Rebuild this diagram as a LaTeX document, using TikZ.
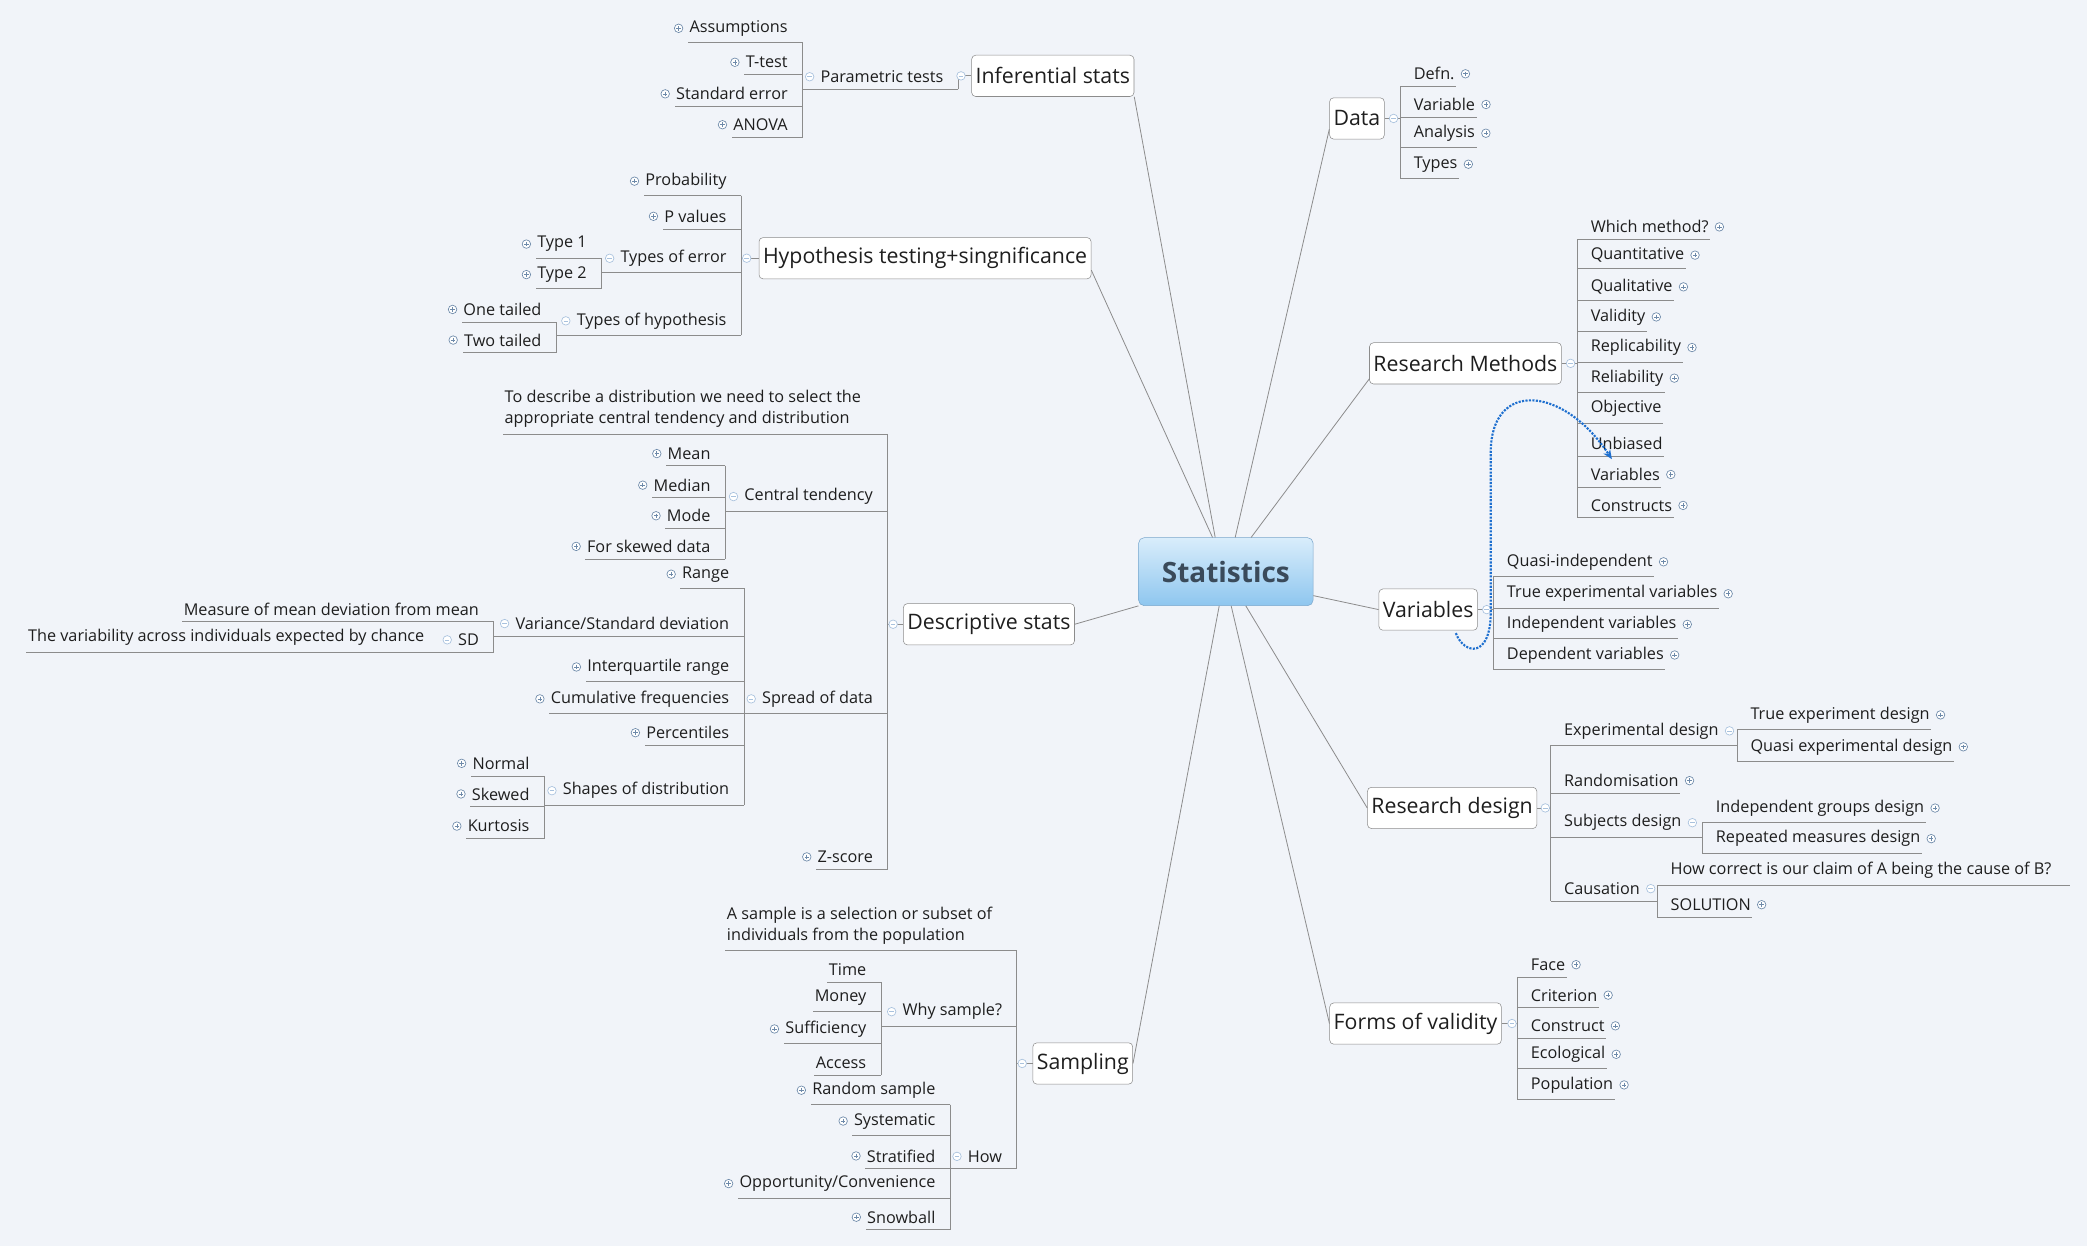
\documentclass[tikz,border=0pt]{standalone}
\usepackage{fontspec}
\setmainfont{Open Sans}
\usetikzlibrary{calc,arrows.meta}
\definecolor{bg}{HTML}{F1F4F9}
\definecolor{lc}{HTML}{8C8C8C}
\definecolor{txt}{HTML}{1E1E1E}
\definecolor{mkd}{HTML}{6E8AAA}
\definecolor{mkl}{HTML}{A9C2DE}
\definecolor{stt}{HTML}{D9EDFB}
\definecolor{stb}{HTML}{8EC6EF}
\definecolor{sbd}{HTML}{7AA7CC}
\definecolor{stx}{HTML}{3A4A5A}
\definecolor{arr}{HTML}{1E6FCF}
\newcommand\fs{\fontsize{12.2}{15.5}\selectfont}
\newcommand\fl{\fontsize{16}{19}\selectfont}
\tikzset{
 lf/.style={font=\fs, inner xsep=1pt, inner ysep=4.6pt, text=txt},
 ln/.style={draw=lc, line width=0.6pt},
 topic/.style={draw=lc, fill=white, rounded corners=3pt, font=\fl, text=txt, inner xsep=3pt, minimum height=31pt},
 mkpc/.style={draw=mkd, line width=0.5pt},
 mkmc/.style={draw=mkl, line width=0.5pt},
}
\newcommand\mkp[1]{\draw[mkpc,fill=white] (#1) circle (3.2pt); \draw[mkpc] ($(#1)+(-1.7,0)$)--++(3.4,0) ($(#1)+(0,-1.7)$)--++(0,3.4);}
\newcommand\mkm[1]{\draw[mkmc,fill=white] (#1) circle (3.2pt); \draw[mkmc] ($(#1)+(-1.7,0)$)--++(3.4,0);}
\newcommand\mkn[1]{}
% left leaf: id, bracket x, underline y, text, marker
\newcommand\Lf[5]{\node[lf,anchor=south east] (#1) at ({#2-10},#3) {#4};
 \draw[ln] (#2,#3) -- (#1.south west);
 \coordinate (#1m) at ($(#1.west)+(-7,0)$); \csname mk#5\endcsname{#1m}}
\newcommand\Rf[5]{\node[lf,anchor=south west] (#1) at ({#2+9},#3) {#4};
 \draw[ln] (#2,#3) -- (#1.south east);
 \coordinate (#1m) at ($(#1.east)+(7,0)$); \csname mk#5\endcsname{#1m}}
\newcommand\br[3]{\draw[ln] (#1,#2) -- (#1,#3);}
\begin{document}
\begin{tikzpicture}[x=1pt,y=-1pt]
\fill[bg] (0,0) rectangle (1568,936);
\useasboundingbox (0,0) rectangle (1568,936);
% central
\node[draw=sbd,rounded corners=4pt,top color=stt,bottom color=stb,minimum width=131,minimum height=51,font=\fontsize{21}{24}\bfseries\selectfont,text=stx] (stat) at (921,429.5) {Statistics};
% topics
\node[topic] (inf) at (791,57) {Inferential stats};
\node[topic] (hyp) at (695,194) {Hypothesis testing+singnificance};
\node[topic] (des) at (743,469) {Descriptive stats};
\node[topic] (samp) at (813.5,799) {Sampling};
\node[topic] (data) at (1019.5,89) {Data};
\node[topic] (rm) at (1101,273) {Research Methods};
\node[topic] (vars) at (1073,458) {Variables};
\node[topic] (rd) at (1091,607) {Research design};
\node[topic] (fv) at (1063.5,769) {Forms of validity};
% spokes
\draw[ln] ($(stat.north)+(-8,0)$) -- (inf.south east);
\draw[ln] ($(stat.north)+(-10,0)$) -- ($(hyp.east)+(0,9)$);
\draw[ln] (stat.south west) -- (des.east);
\draw[ln] ($(stat.south)+(-5,0)$) -- (samp.east);
\draw[ln] ($(stat.north)+(7,0)$) -- ($(data.west)+(0,8)$);
\draw[ln] ($(stat.north)+(19,0)$) -- ($(rm.south west)+(0,-4)$);
\draw[ln] ($(stat.east)+(0,18)$) -- (vars.west);
\draw[ln] ($(stat.south)+(15,0)$) -- (rd.west);
\draw[ln] ($(stat.south)+(4,0)$) -- (fv.west);
% ---- Inferential
\draw[ln] (720,67) -- (720,57) -- (inf.west); \mkm{722,57}
\Lf{par}{720}{67}{Parametric tests}{m}
\draw[ln] (par.south west) -- (603,67);
\Lf{a1}{603}{32}{Assumptions}{p}
\Lf{a2}{603}{56}{T-test}{p}
\Lf{a3}{603}{80}{Standard error}{p}
\Lf{a4}{603}{103}{ANOVA}{p}
\br{603}{32}{103}
% ---- Hypothesis
\draw[ln] (557,194) -- (hyp.west); \mkm{561,194}
\br{557}{147}{252}
\Lf{h1}{557}{147}{Probability}{p}
\Lf{h2}{557}{172}{P values}{p}
\Lf{toe}{557}{205}{Types of error}{m}
\draw[ln] (toe.south west) -- (452,205);
\Lf{t1}{452}{194}{Type 1}{p}
\Lf{t2}{452}{217}{Type 2}{p}
\br{452}{194}{217}
\Lf{toh}{557}{252}{Types of hypothesis}{m}
\draw[ln] (toh.south west) -- (418,252);
\Lf{o1}{418}{242}{One tailed}{p}
\Lf{o2}{418}{265}{Two tailed}{p}
\br{418}{242}{265}
% ---- Descriptive
\draw[ln] (667,469) -- (des.west); \mkm{671,469}
\br{667}{326}{653}
\node[lf,anchor=south west,align=left] (d0) at (378,326) {To describe a distribution we need to select the\\appropriate central tendency and distribution};
\draw[ln] (d0.south west) -- (667,326);
\Lf{ct}{667}{384}{Central tendency}{m}
\draw[ln] (ct.south west) -- (545,384);
\Lf{c1}{545}{350}{Mean}{p}
\Lf{c2}{545}{374}{Median}{p}
\Lf{c3}{545}{397}{Mode}{p}
\Lf{c4}{545}{420}{For skewed data}{p}
\br{545}{350}{420}
\Lf{sp}{667}{536}{Spread of data}{m}
\draw[ln] (sp.south west) -- (559,536);
\br{559}{442}{605}
\Lf{s1}{559}{442}{Range}{p}
\Lf{vsd}{559}{478}{Variance/Standard deviation}{m}
\draw[ln] (vsd.south west) -- (371,478);
\br{371}{467}{490}
\Lf{ms}{371}{467}{Measure of mean deviation from mean}{n}
\Lf{sd}{371}{490}{SD}{m}
\draw[ln] (sd.south west) -- (330,490);
\Lf{vac}{330}{490}{The variability across individuals expected by chance}{n}
\Lf{s2}{559}{512}{Interquartile range}{p}
\Lf{s3}{559}{536}{Cumulative frequencies}{p}
\Lf{s4}{559}{560}{Percentiles}{p}
\Lf{shp}{559}{605}{Shapes of distribution}{m}
\draw[ln] (shp.south west) -- (409,605);
\Lf{n1}{409}{583}{Normal}{p}
\Lf{n2}{409}{606}{Skewed}{p}
\Lf{n3}{409}{630}{Kurtosis}{p}
\br{409}{583}{630}
\Lf{zs}{667}{653}{Z-score}{p}
% ---- Sampling
\draw[ln] (764,799) -- (samp.west); \mkm{768,799}
\br{764}{714}{878}
\node[lf,anchor=south west,align=left] (s0) at (545,714) {A sample is a selection or subset of\\individuals from the population};
\draw[ln] (s0.south west) -- (764,714);
\Lf{why}{764}{771}{Why sample?}{m}
\draw[ln] (why.south west) -- (662,771);
\Lf{w1}{662}{738}{Time}{n}
\Lf{w2}{662}{760}{Money}{n}
\Lf{w3}{662}{784}{Sufficiency}{p}
\Lf{w4}{662}{808}{Access}{n}
\br{662}{738}{808}
\Lf{how}{764}{878}{How}{m}
\draw[ln] (how.south west) -- (714,878);
\Lf{m0}{714}{830}{Random sample}{p}
\Lf{m1}{714}{853}{Systematic}{p}
\Lf{m2}{714}{878}{Stratified}{p}
\Lf{m3}{714}{900}{Opportunity/Convenience}{p}
\Lf{m4}{714}{924}{Snowball}{p}
\br{714}{830}{924}
% ---- Data
\draw[ln] (data.east) -- (1052,89); \mkm{1047,89}
\br{1052}{65}{134}
\Rf{da1}{1052}{65}{Defn.}{p}
\Rf{da2}{1052}{88}{Variable}{p}
\Rf{da3}{1052}{111}{Analysis}{p}
\Rf{da4}{1052}{134}{Types}{p}
% ---- Research methods
\draw[ln] (rm.east) -- (1185,273); \mkm{1180,273}
\br{1185}{180}{389}
\Rf{r1}{1185}{180}{Which method?}{p}
\Rf{r2}{1185}{202}{Quantitative}{p}
\Rf{r3}{1185}{226}{Qualitative}{p}
\Rf{r4}{1185}{249}{Validity}{p}
\Rf{r5}{1185}{272}{Replicability}{p}
\Rf{r6}{1185}{295}{Reliability}{p}
\Rf{r7}{1185}{318}{Objective}{n}
\Rf{r8}{1185}{343}{Unbiased}{n}
\Rf{r9}{1185}{366}{Variables}{p}
\Rf{r10}{1185}{389}{Constructs}{p}
% ---- Variables
\draw[ln] (vars.east) -- (1122,458); \mkm{1117,458}
\br{1122}{433}{503}
\Rf{v1}{1122}{433}{Quasi-independent}{p}
\Rf{v2}{1122}{457}{True experimental variables}{p}
\Rf{v3}{1122}{480}{Independent variables}{p}
\Rf{v4}{1122}{503}{Dependent variables}{p}
% ---- Research design
\draw[ln] (rd.east) -- (1165,607); \mkm{1161,607}
\br{1165}{560}{677}
\Rf{exd}{1165}{560}{Experimental design}{m}
\draw[ln] (exd.south east) -- (1305,560);
\Rf{e1}{1305}{548}{True experiment design}{p}
\Rf{e2}{1305}{572}{Quasi experimental design}{p}
\br{1305}{548}{572}
\Rf{rnd}{1165}{596}{Randomisation}{p}
\Rf{sbj}{1165}{629}{Subjects design}{m}
\draw[ln] (sbj.south east) -- (1279,629);
\Rf{g1}{1279}{618}{Independent groups design}{p}
\Rf{g2}{1279}{641}{Repeated measures design}{p}
\br{1279}{618}{641}
\Rf{cau}{1165}{677}{Causation}{m}
\draw[ln] (cau.south east) -- (1245,677);
\Rf{k1}{1245}{665}{How correct is our claim of A being the cause of B?}{n}
\draw[ln] (k1.south east) -- (1555,665);
\Rf{k2}{1245}{689}{SOLUTION}{p}
\br{1245}{665}{689}
% ---- Forms of validity
\draw[ln] (fv.east) -- (1140,769); \mkm{1136,769}
\br{1140}{734}{826}
\Rf{f1}{1140}{734}{Face}{p}
\Rf{f2}{1140}{757}{Criterion}{p}
\Rf{f3}{1140}{780}{Construct}{p}
\Rf{f4}{1140}{803}{Ecological}{p}
\Rf{f5}{1140}{826}{Population}{p}
% ---- relationship arrow
\coordinate (ra) at ($(vars.south west)+(58,2)$);
\coordinate (rb) at (1211,345);
\draw[arr,densely dotted,line width=1.6pt,-{Stealth[length=7pt,width=6pt]}] (ra) .. controls (1100,492) and (1120,495) .. (1120,460) -- (1120,340) .. controls (1120,285) and (1175,290) .. (rb);
\end{tikzpicture}
\end{document}
